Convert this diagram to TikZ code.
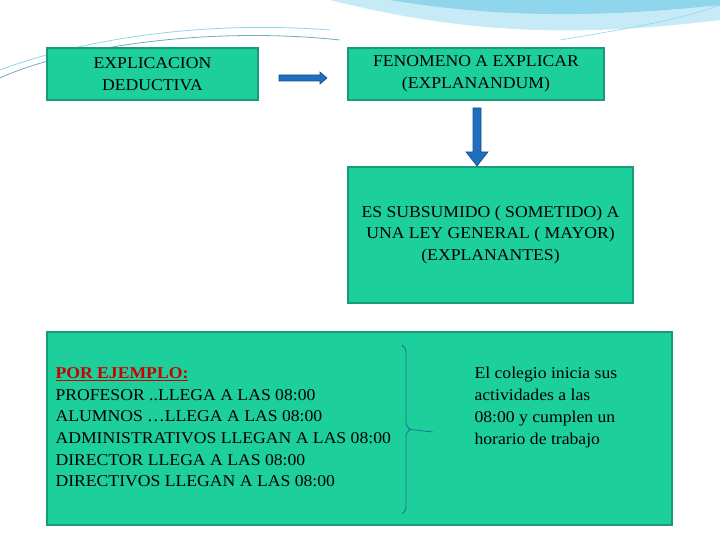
\documentclass[tikz,border=0pt]{standalone}
\usepackage{fontspec}
\setmainfont[FakeStretch=1.07]{Liberation Serif}
\usetikzlibrary{decorations.pathreplacing,arrows.meta}
\definecolor{boxfill}{HTML}{1CCF9B}
\definecolor{boxline}{HTML}{1A9A7A}
\definecolor{arr}{HTML}{1E6FC0}
\definecolor{arrd}{HTML}{1A4E8C}
\definecolor{wave}{HTML}{8FD6EC}
\begin{document}
\begin{tikzpicture}[x=1pt,y=-1pt,
  box/.style={draw=boxline,line width=2pt,fill=boxfill,align=center,font=\fontsize{16.5}{21.5}\selectfont},
  txt/.style={align=left,anchor=north west,font=\fontsize{16.5}{21.7}\selectfont}]
\useasboundingbox (0,0) rectangle (720,540);
\fill[white] (0,0) rectangle (720,540);
% top decoration
\fill[wave!50] (330,0) .. controls (450,30) and (560,40) .. (720,20) -- (720,0) -- cycle;
\fill[wave] (390,0) .. controls (480,15) and (580,20) .. (720,5) -- (720,0) -- cycle;
\draw[wave!80!black,line width=0.8pt] (0,78) .. controls (60,50) and (200,25) .. (340,40);
\draw[wave,line width=0.8pt] (0,70) .. controls (80,40) and (200,20) .. (330,30);
\draw[wave,line width=0.6pt] (560,40) .. controls (620,30) and (680,20) .. (720,5);
% boxes
\node[box,minimum width=211pt,minimum height=52pt] (b1) at (152.5,74) {EXPLICACION\\DEDUCTIVA};
\node[box,minimum width=256pt,minimum height=52pt] (b2) at (476,74) {FENOMENO A EXPLICAR\\(EXPLANANDUM)};
\node[box,minimum width=285pt,minimum height=136pt] (b3) at (490.5,235) {ES SUBSUMIDO ( SOMETIDO) A\\UNA LEY GENERAL ( MAYOR)\\(EXPLANANTES)};
\node[box,minimum width=625pt,minimum height=193pt] (b4) at (359.5,428.5) {};
% arrows
\draw[arrd,fill=arr,line width=0.6pt] (279,75) -- (320,75) -- (320,72) -- (327,78) -- (320,84) -- (320,81) -- (279,81) -- cycle;
\draw[arrd,fill=arr,line width=0.6pt] (473,108) -- (481,108) -- (481,152) -- (488,152) -- (477,166) -- (466,152) -- (473,152) -- cycle;
% texts
\node[txt] (t1) at (52,364) {\textcolor{red!80!black}{\underline{\textbf{POR EJEMPLO:}}}\\PROFESOR ..LLEGA A LAS 08:00\\ALUMNOS …LLEGA A LAS 08:00\\ADMINISTRATIVOS LLEGAN A LAS 08:00\\DIRECTOR LLEGA  A LAS 08:00\\DIRECTIVOS LLEGAN A LAS 08:00};
\node[txt] (t2) at (471,364) {El  colegio inicia sus\\actividades a las\\08:00 y cumplen un\\horario de trabajo};
\coordinate (bt) at (402,345);
\coordinate (bb) at (402,514);
\draw[arrd!70!boxfill,line width=0.8pt,decorate,decoration={brace,amplitude=8pt,aspect=0.5}] (bt) -- (bb);
\draw[arrd!70!boxfill,line width=0.8pt] (410,429.5) -- (433,432);
\end{tikzpicture}
\end{document}
